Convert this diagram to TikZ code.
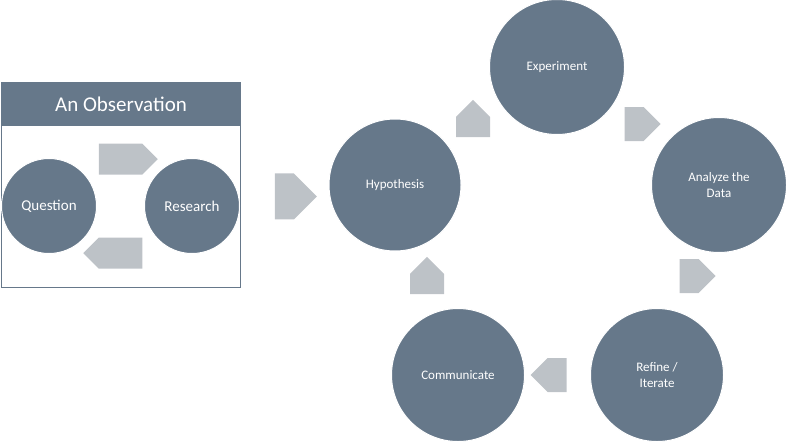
\documentclass[tikz,border=0pt]{standalone}
\usepackage{fontspec}
\setmainfont{Carlito}
\usetikzlibrary{shapes.arrows}
\definecolor{slate}{HTML}{66788A}
\definecolor{arr}{HTML}{BDC2C7}
\begin{document}
\begin{tikzpicture}[x=1pt,y=-1pt,
  circ/.style={circle,fill=slate,draw=white,line width=1pt,text=white,align=center,inner sep=0pt},
  sarr/.style={single arrow,fill=arr,draw=none,inner sep=0pt,single arrow head extend=0pt}]
\useasboundingbox (0,0) rectangle (786,442);
\node[draw=slate,line width=1pt,minimum width=239pt,minimum height=205pt,inner sep=0pt,anchor=north west] (box) at (1,82) {};
\node[fill=slate,draw=slate,line width=1pt,minimum width=239pt,minimum height=43pt,inner sep=0pt,anchor=north west,text=white,font=\fontsize{21}{24}\selectfont] (head) at (1,82) {An Observation};
\node[circ,minimum size=95pt,font=\fontsize{15}{18}\selectfont] (q) at (49,206) {Question};
\node[circ,minimum size=95pt,font=\fontsize{15}{18}\selectfont] (r) at (192,206) {Research};
\node[circ,minimum size=132pt,font=\fontsize{13}{16}\selectfont] (h) at (395,185) {Hypothesis};
\node[circ,minimum size=135pt,font=\fontsize{13}{16}\selectfont] (e) at (557,67) {Experiment};
\node[circ,minimum size=135pt,font=\fontsize{13}{16}\selectfont] (a) at (719,185) {Analyze the\\Data};
\node[circ,minimum size=133pt,font=\fontsize{13}{16}\selectfont] (f) at (657,375) {Refine /\\Iterate};
\node[circ,minimum size=133pt,font=\fontsize{13}{16}\selectfont] (c) at (458,375) {Communicate};
\path (q) -- (r) node[pos=.5,sarr,minimum height=59pt,minimum width=31pt,inner ysep=12pt,yshift=47pt] (a1) {};
\path (r) -- (q) node[pos=.5,sarr,shape border rotate=180,minimum height=59pt,minimum width=31pt,inner ysep=12pt,yshift=-47pt] (a2) {};
\path (r) -- (h) node[pos=.5,sarr,minimum height=42pt,minimum width=46pt,inner ysep=13.5pt] (a3) {};
\node[sarr,shape border rotate=45,minimum height=36pt,minimum width=34pt,inner ysep=10pt] (a4) at (473,127) {};
\node[sarr,shape border rotate=-45,minimum height=36pt,minimum width=34pt,inner ysep=10pt] (a5) at (634,124) {};
\node[sarr,shape border rotate=-110,minimum height=36pt,minimum width=34pt,inner ysep=10pt] (a6) at (689,276) {};
\node[sarr,shape border rotate=180,minimum height=36pt,minimum width=34pt,inner ysep=10pt] (a7) at (557,375) {};
\node[sarr,shape border rotate=80,minimum height=36pt,minimum width=34pt,inner ysep=10pt] (a8) at (427,284) {};
\end{tikzpicture}
\end{document}
